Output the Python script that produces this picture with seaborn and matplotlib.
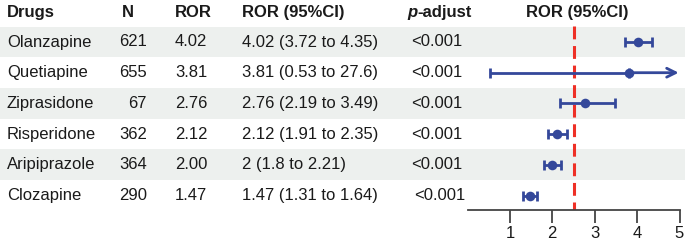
import matplotlib
matplotlib.use("Agg")
import matplotlib.pyplot as plt
import seaborn as sns
import pandas as pd

drugs = ["Olanzapine", "Quetiapine", "Ziprasidone", "Risperidone", "Aripiprazole", "Clozapine"]
n_cases = ["621", "655", "67", "362", "364", "290"]
ror_text = ["4.02", "3.81", "2.76", "2.12", "2.00", "1.47"]
ror = [4.02, 3.81, 2.76, 2.12, 2.00, 1.47]
ci_low = [3.72, 0.53, 2.19, 1.91, 1.80, 1.31]
ci_high = [4.35, 27.6, 3.49, 2.35, 2.21, 1.64]
ror_ci_text = ["4.02 (3.72 to 4.35)", "3.81 (0.53 to 27.6)", "2.76 (2.19 to 3.49)",
               "2.12 (1.91 to 2.35)", "2 (1.8 to 2.21)", "1.47 (1.31 to 1.64)"]
p_adjust = ["<0.001"] * 6
ref_line = 2.5
x_ticks = [1, 2, 3, 4, 5]

df = pd.DataFrame({"drug": drugs, "ror": ror, "lo": ci_low, "hi": ci_high})
df["row"] = range(len(df))

sns.set_style("white")
plt.rcParams["font.family"] = ["Liberation Sans", "DejaVu Sans"]
plt.rcParams["font.size"] = 12

W, H = 685, 240
fig = plt.figure(figsize=(W / 100, H / 100), dpi=100)

# row geometry (pixels from top)
row0, step, axis_y = 42, 30.7, 210
y_bottom = (axis_y - row0) / step
y_top = -row0 / step
ax_bottom = (H - axis_y) / H

# table layer
tab = fig.add_axes([0, ax_bottom, 1, 1 - ax_bottom])
tab.set_xlim(0, W)
tab.set_ylim(y_bottom, y_top)
tab.axis("off")

shade = "#edf0ee"
for i in range(0, len(drugs), 2):
    tab.axhspan(i - 0.5, i + 0.5, color=shade, lw=0, zorder=0)

txt = "#1a1a1a"
hdr_y = -0.95
tab.text(7, hdr_y, "Drugs", weight="bold", va="center", color=txt)
tab.text(122, hdr_y, "N", weight="bold", va="center", color=txt)
tab.text(175, hdr_y, "ROR", weight="bold", va="center", color=txt)
tab.text(242, hdr_y, "ROR (95%CI)", weight="bold", va="center", color=txt)
tab.text(407, hdr_y, "p", weight="bold", style="italic", va="center", color=txt)
tab.text(417.5, hdr_y, "-adjust", weight="bold", va="center", color=txt)
tab.text(577, hdr_y, "ROR (95%CI)", weight="bold", va="center", ha="center", color=txt)

for i in range(len(drugs)):
    tab.text(7, i, drugs[i], va="center", color=txt)
    tab.text(147, i, n_cases[i], va="center", ha="right", color=txt)
    tab.text(175, i, ror_text[i], va="center", color=txt)
    tab.text(242, i, ror_ci_text[i], va="center", color=txt)
    tab.text(411 if i < 5 else 414, i, p_adjust[i], va="center", color=txt)

# forest layer
x0, x1 = 467.5, 679.5
ax = fig.add_axes([x0 / W, ax_bottom, (x1 - x0) / W, 1 - ax_bottom])
ax.patch.set_alpha(0)
xmin, xmax = 0, 5
ax.set_xlim(xmin, xmax)
ax.set_ylim(y_bottom, y_top)

blue = "#34489a"
red = "#ee3026"

ax.vlines(ref_line, -0.52, y_bottom, color=red, lw=2.2, linestyles=(0, (4.2, 2.2)), zorder=1)

for _, r in df.iterrows():
    hi = min(r["hi"], xmax)
    upper = hi - r["ror"] if r["hi"] <= xmax else 0
    ax.errorbar(r["ror"], r["row"], xerr=[[r["ror"] - r["lo"]], [upper]], fmt="none",
                ecolor=blue, elinewidth=2, capsize=3.6, capthick=2, zorder=2)
    if r["hi"] > xmax:
        ax.annotate("", xy=(xmax - 0.02, r["row"]), xytext=(r["ror"], r["row"]),
                    arrowprops=dict(arrowstyle="->", color=blue, lw=2, mutation_scale=16,
                                    shrinkA=0, shrinkB=0), zorder=2)

sns.scatterplot(data=df, x="ror", y="row", ax=ax, color=blue, s=48, edgecolor=blue,
                linewidth=0, zorder=3, legend=False)

ax.set_xlim(xmin, xmax)
ax.set_ylim(y_bottom, y_top)
ax.set_xticks(x_ticks)
ax.set_yticks([])
ax.set_xlabel("")
ax.set_ylabel("")
sns.despine(ax=ax, left=True, top=True, right=True)
ax.spines["bottom"].set_color("#444444")
ax.spines["bottom"].set_linewidth(1.3)
ax.tick_params(axis="x", direction="out", length=9.5, width=1.3, color="#444444",
               labelsize=12, pad=2, labelcolor=txt, bottom=True)

fig.savefig("out.png", dpi=100)
